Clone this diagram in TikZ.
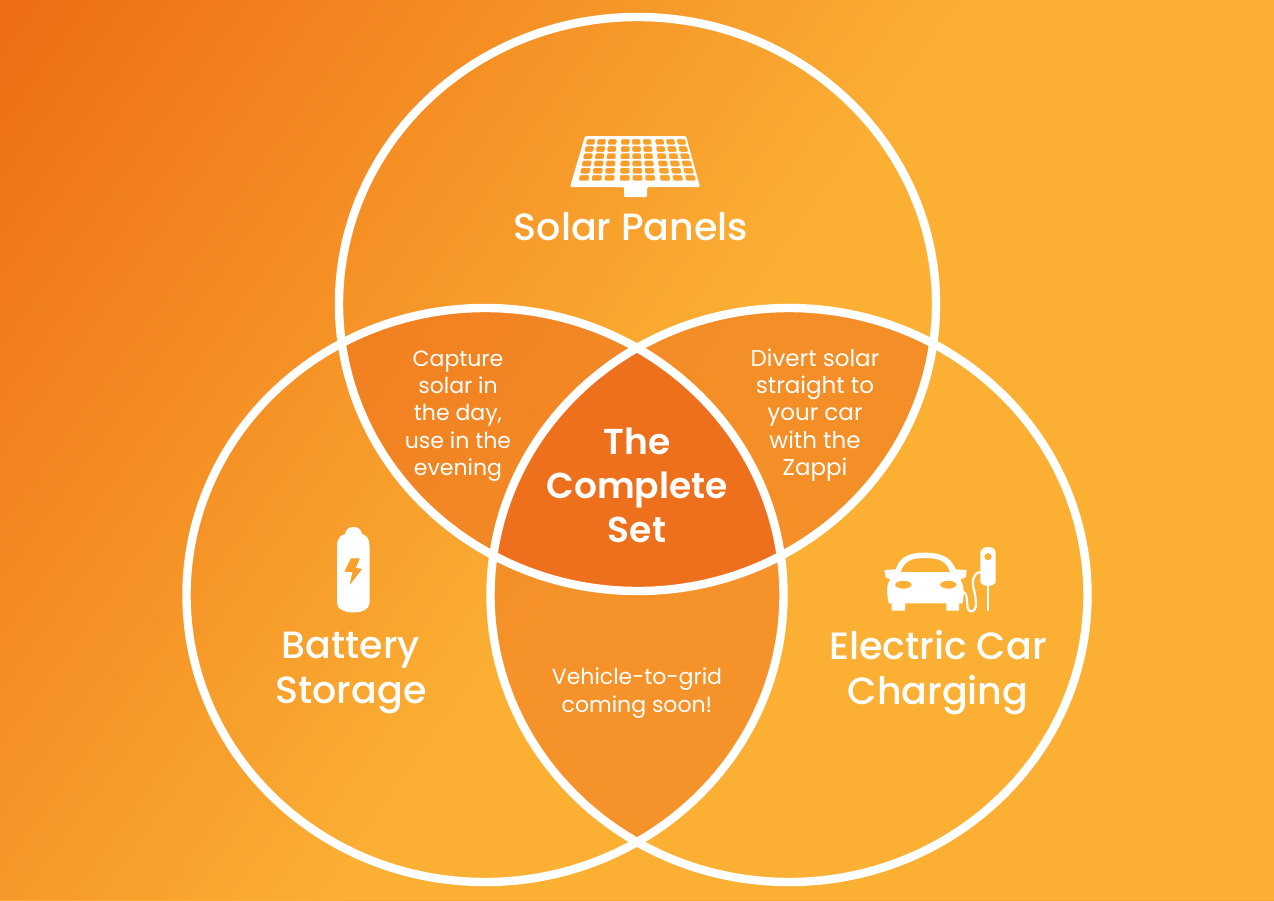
\documentclass[tikz,border=0pt]{standalone}
\usepackage{fontspec}
\setmainfont{Poppins}
\newfontfamily\medfont{Poppins Medium}
\newfontfamily\semifont{Poppins SemiBold}
\definecolor{bgA}{HTML}{EE6C14}
\definecolor{bgB}{HTML}{FBB034}
\definecolor{core}{HTML}{EE6F1C}
\tikzset{
  ring/.style={draw=white,line width=4.2pt},
  bigtxt/.style={text=white,align=center,font=\medfont\fontsize{19}{22.5}\selectfont},
  smalltxt/.style={text=white,align=center,font=\fontsize{11}{13.65}\selectfont},
  widetxt/.style={text=white,align=center,font=\fontsize{11.5}{13.65}\selectfont},
  coretxt/.style={text=white,align=center,font=\semifont\fontsize{18}{22}\selectfont},
  icon/.style={fill=white,even odd rule},
  venn/.style={x radius=298.5,y radius=287}
}
\begin{document}
\begin{tikzpicture}[x=0.5pt,y=-0.5pt]
\useasboundingbox (0,0) rectangle (1274,900);
\clip (0,0) rectangle (1274,900);
\fill[bgB] (0,0) rectangle (1274,900);
% diagonal background gradient, painted as overlapping half-planes
\foreach \t in {0,8,...,800}{
  \pgfmathsetmacro\p{\t/8}
  \fill[bgB!\p!bgA] ({\t/0.81},0) -- (1274,0) -- (1274,900) -- (0,900) -- (0,{\t/0.58}) -- cycle;
}
\coordinate (T) at (637.5,304);
\coordinate (L) at (485,595);
\coordinate (R) at (789,595);
% pair overlaps
\begin{scope}\clip (T) circle[venn];\fill[core,opacity=0.55] (L) circle[venn];\end{scope}
\begin{scope}\clip (T) circle[venn];\fill[core,opacity=0.5] (R) circle[venn];\end{scope}
\begin{scope}\clip (L) circle[venn];\fill[core,opacity=0.45] (R) circle[venn];\end{scope}
% triple overlap
\begin{scope}\clip (T) circle[venn];\clip (L) circle[venn];\fill[core] (R) circle[venn];\end{scope}
% rings
\draw[ring] (T) circle[venn];
\draw[ring] (L) circle[venn];
\draw[ring] (R) circle[venn];
% solar panel
\fill[icon,rounded corners=0.6pt] (585,136) -- (686,136) -- (700,187) -- (647,187) -- (647,197) -- (624,197) -- (624,187) -- (570,187) -- cycle
  \foreach \g in {0,0.365,0.725}{\foreach \c in {0,1,2}{\foreach \r in {0,1,2,3,4,5}{
    ({587-8*(\r*0.18)+(\g+\c*0.114)*(94+18*(\r*0.18))},{139+\r*7.2})
    -- ({587-8*(\r*0.18)+(\g+\c*0.114+0.088)*(94+18*(\r*0.18))},{139+\r*7.2})
    -- ({587-8*(\r*0.18+0.14)+(\g+\c*0.114+0.088)*(94+18*(\r*0.18+0.14))},{144.7+\r*7.2})
    -- ({587-8*(\r*0.18+0.14)+(\g+\c*0.114)*(94+18*(\r*0.18+0.14))},{144.7+\r*7.2}) -- cycle
  }}};
% battery
\fill[icon] (337,546) .. controls (337,538) and (341,535) .. (345,534)
  .. controls (346,529) and (349,527) .. (353.5,527)
  .. controls (358,527) and (361,529) .. (362,534)
  .. controls (366,535) and (369.5,538) .. (369.5,546)
  -- (369.5,603) .. controls (369.5,609) and (362,612.5) .. (353.5,612.5)
  .. controls (345,612.5) and (337,609) .. (337,603) -- cycle
  (350.7,558.3) -- (360,558.3) -- (356,567.7) -- (362.3,569) -- (349.3,585.7) -- (352.3,572.3) -- (344.3,571.7) -- cycle;
% car and charger
\begin{scope}[shift={(875,540)},x=0.1667pt,y=-0.1667pt]
\fill[icon] (62,88) .. controls (72,62) and (85,38) .. (150,38) .. controls (215,38) and (230,62) .. (242,88)
  -- (275,90) -- (272,112) -- (256,118) .. controls (268,135) and (268,165) .. (262,190)
  -- (252,190) -- (252,212) -- (214,212) -- (214,190) -- (90,190) -- (90,212) -- (50,212) -- (50,190) -- (42,190)
  .. controls (35,165) and (32,135) .. (46,118) -- (32,112) -- (28,90) -- cycle
  (77,96) -- (225,96) .. controls (215,65) and (195,54) .. (150,54) .. controls (105,54) and (87,65) .. (77,96) -- cycle
  (85,134) ellipse[x radius=25,y radius=12]
  (220,134) ellipse[x radius=25,y radius=12];
\fill[icon] (316,38) .. controls (316,27) and (328,21) .. (339,21) .. controls (350,21) and (362,27) .. (362,38)
  -- (362,124) .. controls (362,130) and (352,138) .. (339,138) .. controls (326,138) and (316,130) .. (316,124) -- cycle
  (339,50) circle[radius=11];
\fill[white] (335,136) rectangle (342,213);
\fill[white] (345,37) circle[radius=3];
\draw[white,line width=1.1pt] (316,96) .. controls (292,100) and (290,125) .. (297,150)
  .. controls (304,180) and (308,214) .. (288,214) .. controls (268,214) and (285,160) .. (264,156);
\end{scope}
% labels
\node[bigtxt] (solar) at (631,227) {Solar Panels};
\node[bigtxt] (battery) at (351,673) {Battery\\Storage};
\node[bigtxt] (car) at (938,673) {Electric Car\\Charging};
\node[smalltxt] (capture) at (458,416) {Capture\\solar in\\the day,\\use in the\\evening};
\node[widetxt] (divert) at (815,415) {Divert solar\\straight to\\your car\\with the\\Zappi};
\node[smalltxt] (v2g) at (637,693) {Vehicle-to-grid\\coming soon!};
\node[coretxt] (set) at (637,485) {The\\Complete\\Set};
\end{tikzpicture}
\end{document}
